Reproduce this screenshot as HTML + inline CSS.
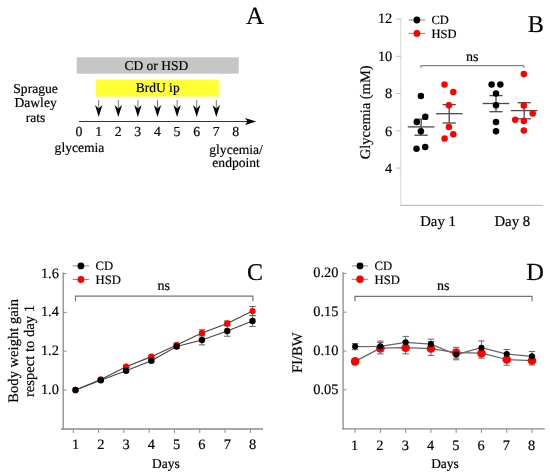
<!DOCTYPE html>
<html><head><meta charset="utf-8"><title>Figure</title>
<style>
html,body{margin:0;padding:0;background:#fff;}
body{width:550px;height:475px;overflow:hidden;font-family:"Liberation Serif",serif;}
svg{display:block;filter:blur(0.3px);}
svg text{font-family:"Liberation Serif",serif;fill:#000;text-rendering:geometricPrecision;stroke:#000;stroke-width:0.18px;}
</style></head>
<body>
<svg width="550" height="475" viewBox="0 0 550 475">
<rect width="550" height="475" fill="#fff"/>
<text x="255.10" y="23.70" font-size="25" text-anchor="middle" >A</text>
<rect x="76.7" y="57.3" width="162" height="16.4" fill="#c6c6c6"/>
<text x="156.30" y="69.70" font-size="13.5" text-anchor="middle" >CD or HSD</text>
<rect x="96" y="79.6" width="122.7" height="17.0" fill="#ffff33"/>
<text x="157.70" y="92.10" font-size="13.5" text-anchor="middle" >BrdU ip</text>
<line x1="98.70" y1="100.00" x2="98.70" y2="108.00" stroke="#777" stroke-width="1" />
<path d="M95.00,105.1 L98.70,108.6 L102.40,105.1 L98.70,117.0 Z" fill="#000"/>
<line x1="118.30" y1="100.00" x2="118.30" y2="108.00" stroke="#777" stroke-width="1" />
<path d="M114.60,105.1 L118.30,108.6 L122.00,105.1 L118.30,117.0 Z" fill="#000"/>
<line x1="137.90" y1="100.00" x2="137.90" y2="108.00" stroke="#777" stroke-width="1" />
<path d="M134.20,105.1 L137.90,108.6 L141.60,105.1 L137.90,117.0 Z" fill="#000"/>
<line x1="157.50" y1="100.00" x2="157.50" y2="108.00" stroke="#777" stroke-width="1" />
<path d="M153.80,105.1 L157.50,108.6 L161.20,105.1 L157.50,117.0 Z" fill="#000"/>
<line x1="177.10" y1="100.00" x2="177.10" y2="108.00" stroke="#777" stroke-width="1" />
<path d="M173.40,105.1 L177.10,108.6 L180.80,105.1 L177.10,117.0 Z" fill="#000"/>
<line x1="196.70" y1="100.00" x2="196.70" y2="108.00" stroke="#777" stroke-width="1" />
<path d="M193.00,105.1 L196.70,108.6 L200.40,105.1 L196.70,117.0 Z" fill="#000"/>
<line x1="216.30" y1="100.00" x2="216.30" y2="108.00" stroke="#777" stroke-width="1" />
<path d="M212.60,105.1 L216.30,108.6 L220.00,105.1 L216.30,117.0 Z" fill="#000"/>
<line x1="79.00" y1="121.50" x2="248.00" y2="121.50" stroke="#333" stroke-width="1.0" />
<path d="M245,118.0 L256.2,121.5 L245,125.0 L247.6,121.5 Z" fill="#000"/>
<text x="79.00" y="135.80" font-size="13.8" text-anchor="middle" >0</text>
<text x="98.60" y="135.80" font-size="13.8" text-anchor="middle" >1</text>
<text x="118.20" y="135.80" font-size="13.8" text-anchor="middle" >2</text>
<text x="137.80" y="135.80" font-size="13.8" text-anchor="middle" >3</text>
<text x="157.40" y="135.80" font-size="13.8" text-anchor="middle" >4</text>
<text x="177.00" y="135.80" font-size="13.8" text-anchor="middle" >5</text>
<text x="196.60" y="135.80" font-size="13.8" text-anchor="middle" >6</text>
<text x="216.20" y="135.80" font-size="13.8" text-anchor="middle" >7</text>
<text x="235.80" y="135.80" font-size="13.8" text-anchor="middle" >8</text>
<text x="35.60" y="92.60" font-size="13.6" text-anchor="middle" >Sprague</text>
<text x="35.60" y="107.20" font-size="13.6" text-anchor="middle" >Dawley</text>
<text x="35.60" y="121.80" font-size="13.6" text-anchor="middle" >rats</text>
<text x="79.50" y="152.00" font-size="13.6" text-anchor="middle" >glycemia</text>
<text x="236.10" y="153.50" font-size="13.6" text-anchor="middle" >glycemia/</text>
<text x="236.10" y="167.30" font-size="13.6" text-anchor="middle" >endpoint</text>
<text x="535.70" y="31.70" font-size="24.2" text-anchor="middle" >B</text>
<line x1="400.80" y1="18.60" x2="400.80" y2="205.00" stroke="#dcdcdc" stroke-width="1.2" />
<line x1="400.20" y1="205.40" x2="543.30" y2="205.40" stroke="#c2c2c2" stroke-width="1.2" />
<line x1="396.40" y1="19.10" x2="400.80" y2="19.10" stroke="#bbbbbb" stroke-width="1" />
<text x="392.30" y="23.00" font-size="14.4" text-anchor="end" >12</text>
<line x1="396.40" y1="56.34" x2="400.80" y2="56.34" stroke="#bbbbbb" stroke-width="1" />
<text x="392.30" y="61.19" font-size="14.4" text-anchor="end" >10</text>
<line x1="396.40" y1="93.58" x2="400.80" y2="93.58" stroke="#bbbbbb" stroke-width="1" />
<text x="392.30" y="98.43" font-size="14.4" text-anchor="end" >8</text>
<line x1="396.40" y1="130.82" x2="400.80" y2="130.82" stroke="#bbbbbb" stroke-width="1" />
<text x="392.30" y="135.67" font-size="14.4" text-anchor="end" >6</text>
<line x1="396.40" y1="168.06" x2="400.80" y2="168.06" stroke="#bbbbbb" stroke-width="1" />
<text x="392.30" y="172.91" font-size="14.4" text-anchor="end" >4</text>
<text x="0" y="0" font-size="14.5" text-anchor="middle" transform="translate(370.2,112.3) rotate(-90)">Glycemia (mM)</text>
<text x="438.00" y="225.50" font-size="14.8" text-anchor="middle" >Day 1</text>
<text x="512.30" y="225.50" font-size="14.8" text-anchor="middle" >Day 8</text>
<line x1="408.70" y1="20.00" x2="425.20" y2="20.00" stroke="#888" stroke-width="1" />
<circle cx="416.90" cy="20.00" r="3.4" fill="#000000"/>
<line x1="408.70" y1="33.40" x2="425.20" y2="33.40" stroke="#888" stroke-width="1" />
<circle cx="416.90" cy="33.40" r="3.4" fill="#ff0000"/>
<text x="431.50" y="24.20" font-size="12.5" text-anchor="start" >CD</text>
<text x="431.50" y="37.60" font-size="12.5" text-anchor="start" >HSD</text>
<path d="M420.9,67.8 L420.9,65.7 L523.9,65.7 L523.9,67.8" fill="none" stroke="#666" stroke-width="1"/>
<text x="472.30" y="61.00" font-size="14" text-anchor="middle" >ns</text>
<line x1="421.10" y1="119.20" x2="421.10" y2="135.20" stroke="#4a4a4a" stroke-width="1.3" />
<line x1="414.50" y1="119.20" x2="427.70" y2="119.20" stroke="#4a4a4a" stroke-width="1.3" />
<line x1="414.50" y1="135.20" x2="427.70" y2="135.20" stroke="#4a4a4a" stroke-width="1.3" />
<line x1="407.80" y1="126.90" x2="434.40" y2="126.90" stroke="#4a4a4a" stroke-width="1.3" />
<line x1="449.20" y1="104.60" x2="449.20" y2="123.00" stroke="#4a4a4a" stroke-width="1.3" />
<line x1="442.60" y1="104.60" x2="455.80" y2="104.60" stroke="#4a4a4a" stroke-width="1.3" />
<line x1="442.60" y1="123.00" x2="455.80" y2="123.00" stroke="#4a4a4a" stroke-width="1.3" />
<line x1="435.90" y1="113.70" x2="462.50" y2="113.70" stroke="#4a4a4a" stroke-width="1.3" />
<line x1="496.00" y1="95.60" x2="496.00" y2="111.70" stroke="#4a4a4a" stroke-width="1.3" />
<line x1="489.40" y1="95.60" x2="502.60" y2="95.60" stroke="#4a4a4a" stroke-width="1.3" />
<line x1="489.40" y1="111.70" x2="502.60" y2="111.70" stroke="#4a4a4a" stroke-width="1.3" />
<line x1="482.70" y1="103.50" x2="509.30" y2="103.50" stroke="#4a4a4a" stroke-width="1.3" />
<line x1="524.20" y1="102.70" x2="524.20" y2="118.80" stroke="#4a4a4a" stroke-width="1.3" />
<line x1="517.60" y1="102.70" x2="530.80" y2="102.70" stroke="#4a4a4a" stroke-width="1.3" />
<line x1="517.60" y1="118.80" x2="530.80" y2="118.80" stroke="#4a4a4a" stroke-width="1.3" />
<line x1="510.90" y1="110.60" x2="537.50" y2="110.60" stroke="#4a4a4a" stroke-width="1.3" />
<circle cx="420.90" cy="96.10" r="3.25" fill="#000000"/>
<circle cx="425.30" cy="116.70" r="3.25" fill="#000000"/>
<circle cx="416.80" cy="121.90" r="3.25" fill="#000000"/>
<circle cx="420.90" cy="131.30" r="3.25" fill="#000000"/>
<circle cx="416.50" cy="148.70" r="3.25" fill="#000000"/>
<circle cx="425.20" cy="146.90" r="3.25" fill="#000000"/>
<circle cx="444.50" cy="84.60" r="3.25" fill="#ff0000"/>
<circle cx="453.30" cy="92.00" r="3.25" fill="#ff0000"/>
<circle cx="448.90" cy="105.20" r="3.25" fill="#ff0000"/>
<circle cx="448.90" cy="126.90" r="3.25" fill="#ff0000"/>
<circle cx="453.30" cy="134.30" r="3.25" fill="#ff0000"/>
<circle cx="444.60" cy="138.50" r="3.25" fill="#ff0000"/>
<circle cx="491.60" cy="84.60" r="3.25" fill="#000000"/>
<circle cx="500.30" cy="84.60" r="3.25" fill="#000000"/>
<circle cx="496.00" cy="93.50" r="3.25" fill="#000000"/>
<circle cx="496.00" cy="105.20" r="3.25" fill="#000000"/>
<circle cx="496.00" cy="121.90" r="3.25" fill="#000000"/>
<circle cx="496.00" cy="131.20" r="3.25" fill="#000000"/>
<circle cx="523.80" cy="74.10" r="3.25" fill="#ff0000"/>
<circle cx="523.80" cy="105.40" r="3.25" fill="#ff0000"/>
<circle cx="532.70" cy="113.60" r="3.25" fill="#ff0000"/>
<circle cx="515.20" cy="119.80" r="3.25" fill="#ff0000"/>
<circle cx="523.80" cy="121.00" r="3.25" fill="#ff0000"/>
<circle cx="523.80" cy="130.40" r="3.25" fill="#ff0000"/>
<text x="255.00" y="280.40" font-size="24" text-anchor="middle" >C</text>
<line x1="63.20" y1="272.50" x2="63.20" y2="429.60" stroke="#8a8a8a" stroke-width="1.3" />
<line x1="61.00" y1="429.00" x2="263.00" y2="429.00" stroke="#8a8a8a" stroke-width="1.3" />
<line x1="63.20" y1="273.60" x2="66.60" y2="273.60" stroke="#8a8a8a" stroke-width="1" />
<text x="58.90" y="277.50" font-size="14.4" text-anchor="end" >1.6</text>
<line x1="63.20" y1="312.40" x2="66.60" y2="312.40" stroke="#8a8a8a" stroke-width="1" />
<text x="58.90" y="316.30" font-size="14.4" text-anchor="end" >1.4</text>
<line x1="63.20" y1="351.20" x2="66.60" y2="351.20" stroke="#8a8a8a" stroke-width="1" />
<text x="58.90" y="355.10" font-size="14.4" text-anchor="end" >1.2</text>
<line x1="63.20" y1="390.00" x2="66.60" y2="390.00" stroke="#8a8a8a" stroke-width="1" />
<text x="58.90" y="393.90" font-size="14.4" text-anchor="end" >1.0</text>
<line x1="73.30" y1="429.00" x2="73.30" y2="432.90" stroke="#8a8a8a" stroke-width="1" />
<text x="75.50" y="448.50" font-size="14.4" text-anchor="middle" >1</text>
<line x1="98.59" y1="429.00" x2="98.59" y2="432.90" stroke="#8a8a8a" stroke-width="1" />
<text x="100.79" y="448.50" font-size="14.4" text-anchor="middle" >2</text>
<line x1="123.88" y1="429.00" x2="123.88" y2="432.90" stroke="#8a8a8a" stroke-width="1" />
<text x="126.08" y="448.50" font-size="14.4" text-anchor="middle" >3</text>
<line x1="149.17" y1="429.00" x2="149.17" y2="432.90" stroke="#8a8a8a" stroke-width="1" />
<text x="151.37" y="448.50" font-size="14.4" text-anchor="middle" >4</text>
<line x1="174.46" y1="429.00" x2="174.46" y2="432.90" stroke="#8a8a8a" stroke-width="1" />
<text x="176.66" y="448.50" font-size="14.4" text-anchor="middle" >5</text>
<line x1="199.75" y1="429.00" x2="199.75" y2="432.90" stroke="#8a8a8a" stroke-width="1" />
<text x="201.95" y="448.50" font-size="14.4" text-anchor="middle" >6</text>
<line x1="225.04" y1="429.00" x2="225.04" y2="432.90" stroke="#8a8a8a" stroke-width="1" />
<text x="227.24" y="448.50" font-size="14.4" text-anchor="middle" >7</text>
<line x1="250.33" y1="429.00" x2="250.33" y2="432.90" stroke="#8a8a8a" stroke-width="1" />
<text x="252.53" y="448.50" font-size="14.4" text-anchor="middle" >8</text>
<text x="165.90" y="468.00" font-size="13.5" text-anchor="middle" >Days</text>
<text x="0" y="0" font-size="14.6" text-anchor="middle" transform="translate(17.6,350.8) rotate(-90)">Body weight gain</text>
<text x="0" y="0" font-size="14.6" text-anchor="middle" transform="translate(34.0,351.0) rotate(-90)">respect to day 1</text>
<line x1="72.70" y1="265.90" x2="89.10" y2="265.90" stroke="#888" stroke-width="1" />
<circle cx="80.90" cy="265.90" r="3.4" fill="#000000"/>
<line x1="72.70" y1="279.50" x2="89.10" y2="279.50" stroke="#888" stroke-width="1" />
<circle cx="80.90" cy="279.50" r="3.4" fill="#ff0000"/>
<text x="95.60" y="270.10" font-size="12.7" text-anchor="start" >CD</text>
<text x="95.60" y="283.70" font-size="12.7" text-anchor="start" >HSD</text>
<path d="M75.5,301.2 L75.5,296.1 L252.9,296.1 L252.9,301.2" fill="none" stroke="#777" stroke-width="1.2"/>
<text x="163.80" y="290.20" font-size="14" text-anchor="middle" >ns</text>
<line x1="100.79" y1="378.75" x2="100.79" y2="380.30" stroke="#666" stroke-width="1" />
<line x1="97.59" y1="378.75" x2="103.99" y2="378.75" stroke="#666" stroke-width="1" />
<line x1="97.59" y1="380.30" x2="103.99" y2="380.30" stroke="#666" stroke-width="1" />
<line x1="126.08" y1="365.75" x2="126.08" y2="367.69" stroke="#666" stroke-width="1" />
<line x1="122.88" y1="365.75" x2="129.28" y2="365.75" stroke="#666" stroke-width="1" />
<line x1="122.88" y1="367.69" x2="129.28" y2="367.69" stroke="#666" stroke-width="1" />
<line x1="151.37" y1="355.47" x2="151.37" y2="357.80" stroke="#666" stroke-width="1" />
<line x1="148.17" y1="355.47" x2="154.57" y2="355.47" stroke="#666" stroke-width="1" />
<line x1="148.17" y1="357.80" x2="154.57" y2="357.80" stroke="#666" stroke-width="1" />
<line x1="176.66" y1="343.63" x2="176.66" y2="346.35" stroke="#666" stroke-width="1" />
<line x1="173.46" y1="343.63" x2="179.86" y2="343.63" stroke="#666" stroke-width="1" />
<line x1="173.46" y1="346.35" x2="179.86" y2="346.35" stroke="#666" stroke-width="1" />
<line x1="201.95" y1="329.80" x2="201.95" y2="336.01" stroke="#666" stroke-width="1" />
<line x1="198.75" y1="329.80" x2="205.15" y2="329.80" stroke="#666" stroke-width="1" />
<line x1="198.75" y1="336.01" x2="205.15" y2="336.01" stroke="#666" stroke-width="1" />
<line x1="227.24" y1="321.07" x2="227.24" y2="325.73" stroke="#666" stroke-width="1" />
<line x1="224.04" y1="321.07" x2="230.44" y2="321.07" stroke="#666" stroke-width="1" />
<line x1="224.04" y1="325.73" x2="230.44" y2="325.73" stroke="#666" stroke-width="1" />
<line x1="252.53" y1="306.54" x2="252.53" y2="315.66" stroke="#666" stroke-width="1" />
<line x1="249.33" y1="306.54" x2="255.73" y2="306.54" stroke="#666" stroke-width="1" />
<line x1="249.33" y1="315.66" x2="255.73" y2="315.66" stroke="#666" stroke-width="1" />
<line x1="100.79" y1="379.52" x2="100.79" y2="381.08" stroke="#666" stroke-width="1" />
<line x1="97.59" y1="379.52" x2="103.99" y2="379.52" stroke="#666" stroke-width="1" />
<line x1="97.59" y1="381.08" x2="103.99" y2="381.08" stroke="#666" stroke-width="1" />
<line x1="126.08" y1="369.63" x2="126.08" y2="371.96" stroke="#666" stroke-width="1" />
<line x1="122.88" y1="369.63" x2="129.28" y2="369.63" stroke="#666" stroke-width="1" />
<line x1="122.88" y1="371.96" x2="129.28" y2="371.96" stroke="#666" stroke-width="1" />
<line x1="151.37" y1="359.54" x2="151.37" y2="361.87" stroke="#666" stroke-width="1" />
<line x1="148.17" y1="359.54" x2="154.57" y2="359.54" stroke="#666" stroke-width="1" />
<line x1="148.17" y1="361.87" x2="154.57" y2="361.87" stroke="#666" stroke-width="1" />
<line x1="176.66" y1="344.99" x2="176.66" y2="348.10" stroke="#666" stroke-width="1" />
<line x1="173.46" y1="344.99" x2="179.86" y2="344.99" stroke="#666" stroke-width="1" />
<line x1="173.46" y1="348.10" x2="179.86" y2="348.10" stroke="#666" stroke-width="1" />
<line x1="201.95" y1="335.16" x2="201.95" y2="344.86" stroke="#666" stroke-width="1" />
<line x1="198.75" y1="335.16" x2="205.15" y2="335.16" stroke="#666" stroke-width="1" />
<line x1="198.75" y1="344.86" x2="205.15" y2="344.86" stroke="#666" stroke-width="1" />
<line x1="227.24" y1="325.77" x2="227.24" y2="336.24" stroke="#666" stroke-width="1" />
<line x1="224.04" y1="325.77" x2="230.44" y2="325.77" stroke="#666" stroke-width="1" />
<line x1="224.04" y1="336.24" x2="230.44" y2="336.24" stroke="#666" stroke-width="1" />
<line x1="252.53" y1="315.56" x2="252.53" y2="326.43" stroke="#666" stroke-width="1" />
<line x1="249.33" y1="315.56" x2="255.73" y2="315.56" stroke="#666" stroke-width="1" />
<line x1="249.33" y1="326.43" x2="255.73" y2="326.43" stroke="#666" stroke-width="1" />
<polyline points="75.50,390.00 100.79,379.52 126.08,366.72 151.37,356.63 176.66,344.99 201.95,332.91 227.24,323.40 252.53,311.10" fill="none" stroke="#444" stroke-width="1.1"/>
<polyline points="75.50,390.00 100.79,380.30 126.08,370.79 151.37,360.71 176.66,346.54 201.95,340.01 227.24,331.00 252.53,320.99" fill="none" stroke="#444" stroke-width="1.1"/>
<circle cx="75.50" cy="390.00" r="3.15" fill="#ff0000"/>
<circle cx="100.79" cy="379.52" r="3.15" fill="#ff0000"/>
<circle cx="126.08" cy="366.72" r="3.15" fill="#ff0000"/>
<circle cx="151.37" cy="356.63" r="3.15" fill="#ff0000"/>
<circle cx="176.66" cy="344.99" r="3.15" fill="#ff0000"/>
<circle cx="201.95" cy="332.91" r="3.15" fill="#ff0000"/>
<circle cx="227.24" cy="323.40" r="3.15" fill="#ff0000"/>
<circle cx="252.53" cy="311.10" r="3.15" fill="#ff0000"/>
<circle cx="75.50" cy="390.00" r="3.2" fill="#000000"/>
<circle cx="100.79" cy="380.30" r="3.2" fill="#000000"/>
<circle cx="126.08" cy="370.79" r="3.2" fill="#000000"/>
<circle cx="151.37" cy="360.71" r="3.2" fill="#000000"/>
<circle cx="176.66" cy="346.54" r="3.2" fill="#000000"/>
<circle cx="201.95" cy="340.01" r="3.2" fill="#000000"/>
<circle cx="227.24" cy="331.00" r="3.2" fill="#000000"/>
<circle cx="252.53" cy="320.99" r="3.2" fill="#000000"/>
<text x="535.10" y="280.20" font-size="24.5" text-anchor="middle" >D</text>
<line x1="343.10" y1="272.30" x2="343.10" y2="429.60" stroke="#8a8a8a" stroke-width="1.3" />
<line x1="342.50" y1="428.90" x2="544.80" y2="428.90" stroke="#8a8a8a" stroke-width="1.3" />
<line x1="343.10" y1="273.40" x2="346.50" y2="273.40" stroke="#8a8a8a" stroke-width="1" />
<text x="338.40" y="277.40" font-size="14.4" text-anchor="end" >0.20</text>
<line x1="343.10" y1="312.20" x2="346.50" y2="312.20" stroke="#8a8a8a" stroke-width="1" />
<text x="338.40" y="316.20" font-size="14.4" text-anchor="end" >0.15</text>
<line x1="343.10" y1="351.00" x2="346.50" y2="351.00" stroke="#8a8a8a" stroke-width="1" />
<text x="338.40" y="355.00" font-size="14.4" text-anchor="end" >0.10</text>
<line x1="343.10" y1="389.80" x2="346.50" y2="389.80" stroke="#8a8a8a" stroke-width="1" />
<text x="338.40" y="393.80" font-size="14.4" text-anchor="end" >0.05</text>
<line x1="355.10" y1="429.00" x2="355.10" y2="432.90" stroke="#8a8a8a" stroke-width="1" />
<text x="354.70" y="449.50" font-size="14.4" text-anchor="middle" >1</text>
<line x1="380.37" y1="429.00" x2="380.37" y2="432.90" stroke="#8a8a8a" stroke-width="1" />
<text x="379.97" y="449.50" font-size="14.4" text-anchor="middle" >2</text>
<line x1="405.64" y1="429.00" x2="405.64" y2="432.90" stroke="#8a8a8a" stroke-width="1" />
<text x="405.24" y="449.50" font-size="14.4" text-anchor="middle" >3</text>
<line x1="430.91" y1="429.00" x2="430.91" y2="432.90" stroke="#8a8a8a" stroke-width="1" />
<text x="430.51" y="449.50" font-size="14.4" text-anchor="middle" >4</text>
<line x1="456.18" y1="429.00" x2="456.18" y2="432.90" stroke="#8a8a8a" stroke-width="1" />
<text x="455.78" y="449.50" font-size="14.4" text-anchor="middle" >5</text>
<line x1="481.45" y1="429.00" x2="481.45" y2="432.90" stroke="#8a8a8a" stroke-width="1" />
<text x="481.05" y="449.50" font-size="14.4" text-anchor="middle" >6</text>
<line x1="506.72" y1="429.00" x2="506.72" y2="432.90" stroke="#8a8a8a" stroke-width="1" />
<text x="506.32" y="449.50" font-size="14.4" text-anchor="middle" >7</text>
<line x1="531.99" y1="429.00" x2="531.99" y2="432.90" stroke="#8a8a8a" stroke-width="1" />
<text x="531.59" y="449.50" font-size="14.4" text-anchor="middle" >8</text>
<text x="445.00" y="468.00" font-size="13.5" text-anchor="middle" >Days</text>
<text x="0" y="0" font-size="14.7" text-anchor="middle" transform="translate(301.5,352.7) rotate(-90)">FI/BW</text>
<line x1="351.80" y1="265.90" x2="368.20" y2="265.90" stroke="#888" stroke-width="1" />
<circle cx="360.00" cy="265.90" r="3.4" fill="#000000"/>
<line x1="351.80" y1="279.30" x2="368.20" y2="279.30" stroke="#888" stroke-width="1" />
<circle cx="360.00" cy="279.30" r="3.8" fill="#ff0000"/>
<text x="374.50" y="270.10" font-size="12.7" text-anchor="start" >CD</text>
<text x="374.50" y="283.50" font-size="12.7" text-anchor="start" >HSD</text>
<path d="M354.9,301.2 L354.9,296.3 L532,296.3 L532,301.2" fill="none" stroke="#777" stroke-width="1.2"/>
<text x="443.30" y="290.20" font-size="14" text-anchor="middle" >ns</text>
<line x1="355.10" y1="359.02" x2="355.10" y2="363.70" stroke="#666" stroke-width="1" />
<line x1="351.90" y1="359.02" x2="358.30" y2="359.02" stroke="#666" stroke-width="1" />
<line x1="351.90" y1="363.70" x2="358.30" y2="363.70" stroke="#666" stroke-width="1" />
<line x1="380.37" y1="342.49" x2="380.37" y2="353.88" stroke="#666" stroke-width="1" />
<line x1="377.17" y1="342.49" x2="383.57" y2="342.49" stroke="#666" stroke-width="1" />
<line x1="377.17" y1="353.88" x2="383.57" y2="353.88" stroke="#666" stroke-width="1" />
<line x1="405.64" y1="341.63" x2="405.64" y2="353.80" stroke="#666" stroke-width="1" />
<line x1="402.44" y1="341.63" x2="408.84" y2="341.63" stroke="#666" stroke-width="1" />
<line x1="402.44" y1="353.80" x2="408.84" y2="353.80" stroke="#666" stroke-width="1" />
<line x1="430.91" y1="341.71" x2="430.91" y2="355.44" stroke="#666" stroke-width="1" />
<line x1="427.71" y1="341.71" x2="434.11" y2="341.71" stroke="#666" stroke-width="1" />
<line x1="427.71" y1="355.44" x2="434.11" y2="355.44" stroke="#666" stroke-width="1" />
<line x1="456.18" y1="347.32" x2="456.18" y2="358.09" stroke="#666" stroke-width="1" />
<line x1="452.98" y1="347.32" x2="459.38" y2="347.32" stroke="#666" stroke-width="1" />
<line x1="452.98" y1="358.09" x2="459.38" y2="358.09" stroke="#666" stroke-width="1" />
<line x1="481.45" y1="348.18" x2="481.45" y2="358.17" stroke="#666" stroke-width="1" />
<line x1="478.25" y1="348.18" x2="484.65" y2="348.18" stroke="#666" stroke-width="1" />
<line x1="478.25" y1="358.17" x2="484.65" y2="358.17" stroke="#666" stroke-width="1" />
<line x1="506.72" y1="353.72" x2="506.72" y2="365.26" stroke="#666" stroke-width="1" />
<line x1="503.52" y1="353.72" x2="509.92" y2="353.72" stroke="#666" stroke-width="1" />
<line x1="503.52" y1="365.26" x2="509.92" y2="365.26" stroke="#666" stroke-width="1" />
<line x1="531.99" y1="355.98" x2="531.99" y2="365.03" stroke="#666" stroke-width="1" />
<line x1="528.79" y1="355.98" x2="535.19" y2="355.98" stroke="#666" stroke-width="1" />
<line x1="528.79" y1="365.03" x2="535.19" y2="365.03" stroke="#666" stroke-width="1" />
<line x1="355.10" y1="343.50" x2="355.10" y2="349.74" stroke="#666" stroke-width="1" />
<line x1="351.90" y1="343.50" x2="358.30" y2="343.50" stroke="#666" stroke-width="1" />
<line x1="351.90" y1="349.74" x2="358.30" y2="349.74" stroke="#666" stroke-width="1" />
<line x1="380.37" y1="341.08" x2="380.37" y2="351.69" stroke="#666" stroke-width="1" />
<line x1="377.17" y1="341.08" x2="383.57" y2="341.08" stroke="#666" stroke-width="1" />
<line x1="377.17" y1="351.69" x2="383.57" y2="351.69" stroke="#666" stroke-width="1" />
<line x1="405.64" y1="336.40" x2="405.64" y2="348.26" stroke="#666" stroke-width="1" />
<line x1="402.44" y1="336.40" x2="408.84" y2="336.40" stroke="#666" stroke-width="1" />
<line x1="402.44" y1="348.26" x2="408.84" y2="348.26" stroke="#666" stroke-width="1" />
<line x1="430.91" y1="339.13" x2="430.91" y2="349.12" stroke="#666" stroke-width="1" />
<line x1="427.71" y1="339.13" x2="434.11" y2="339.13" stroke="#666" stroke-width="1" />
<line x1="427.71" y1="349.12" x2="434.11" y2="349.12" stroke="#666" stroke-width="1" />
<line x1="456.18" y1="349.20" x2="456.18" y2="359.80" stroke="#666" stroke-width="1" />
<line x1="452.98" y1="349.20" x2="459.38" y2="349.20" stroke="#666" stroke-width="1" />
<line x1="452.98" y1="359.80" x2="459.38" y2="359.80" stroke="#666" stroke-width="1" />
<line x1="481.45" y1="340.93" x2="481.45" y2="354.50" stroke="#666" stroke-width="1" />
<line x1="478.25" y1="340.93" x2="484.65" y2="340.93" stroke="#666" stroke-width="1" />
<line x1="478.25" y1="354.50" x2="484.65" y2="354.50" stroke="#666" stroke-width="1" />
<line x1="506.72" y1="349.51" x2="506.72" y2="358.71" stroke="#666" stroke-width="1" />
<line x1="503.52" y1="349.51" x2="509.92" y2="349.51" stroke="#666" stroke-width="1" />
<line x1="503.52" y1="358.71" x2="509.92" y2="358.71" stroke="#666" stroke-width="1" />
<line x1="531.99" y1="351.46" x2="531.99" y2="361.29" stroke="#666" stroke-width="1" />
<line x1="528.79" y1="351.46" x2="535.19" y2="351.46" stroke="#666" stroke-width="1" />
<line x1="528.79" y1="361.29" x2="535.19" y2="361.29" stroke="#666" stroke-width="1" />
<polyline points="355.10,361.36 380.37,348.18 405.64,347.71 430.91,348.57 456.18,352.71 481.45,353.17 506.72,359.49 531.99,360.51" fill="none" stroke="#666" stroke-width="1.25"/>
<polyline points="355.10,346.62 380.37,346.39 405.64,342.33 430.91,344.13 456.18,354.50 481.45,347.71 506.72,354.11 531.99,356.37" fill="none" stroke="#666" stroke-width="1.25"/>
<circle cx="355.10" cy="361.36" r="4.3" fill="#ff0000"/>
<circle cx="380.37" cy="348.18" r="4.3" fill="#ff0000"/>
<circle cx="405.64" cy="347.71" r="4.3" fill="#ff0000"/>
<circle cx="430.91" cy="348.57" r="4.3" fill="#ff0000"/>
<circle cx="456.18" cy="352.71" r="4.3" fill="#ff0000"/>
<circle cx="481.45" cy="353.17" r="4.3" fill="#ff0000"/>
<circle cx="506.72" cy="359.49" r="4.3" fill="#ff0000"/>
<circle cx="531.99" cy="360.51" r="4.3" fill="#ff0000"/>
<circle cx="355.10" cy="346.62" r="3.05" fill="#000000"/>
<circle cx="380.37" cy="346.39" r="3.05" fill="#000000"/>
<circle cx="405.64" cy="342.33" r="3.05" fill="#000000"/>
<circle cx="430.91" cy="344.13" r="3.05" fill="#000000"/>
<circle cx="456.18" cy="354.50" r="3.05" fill="#000000"/>
<circle cx="481.45" cy="347.71" r="3.05" fill="#000000"/>
<circle cx="506.72" cy="354.11" r="3.05" fill="#000000"/>
<circle cx="531.99" cy="356.37" r="3.05" fill="#000000"/>
</svg>
</body></html>
